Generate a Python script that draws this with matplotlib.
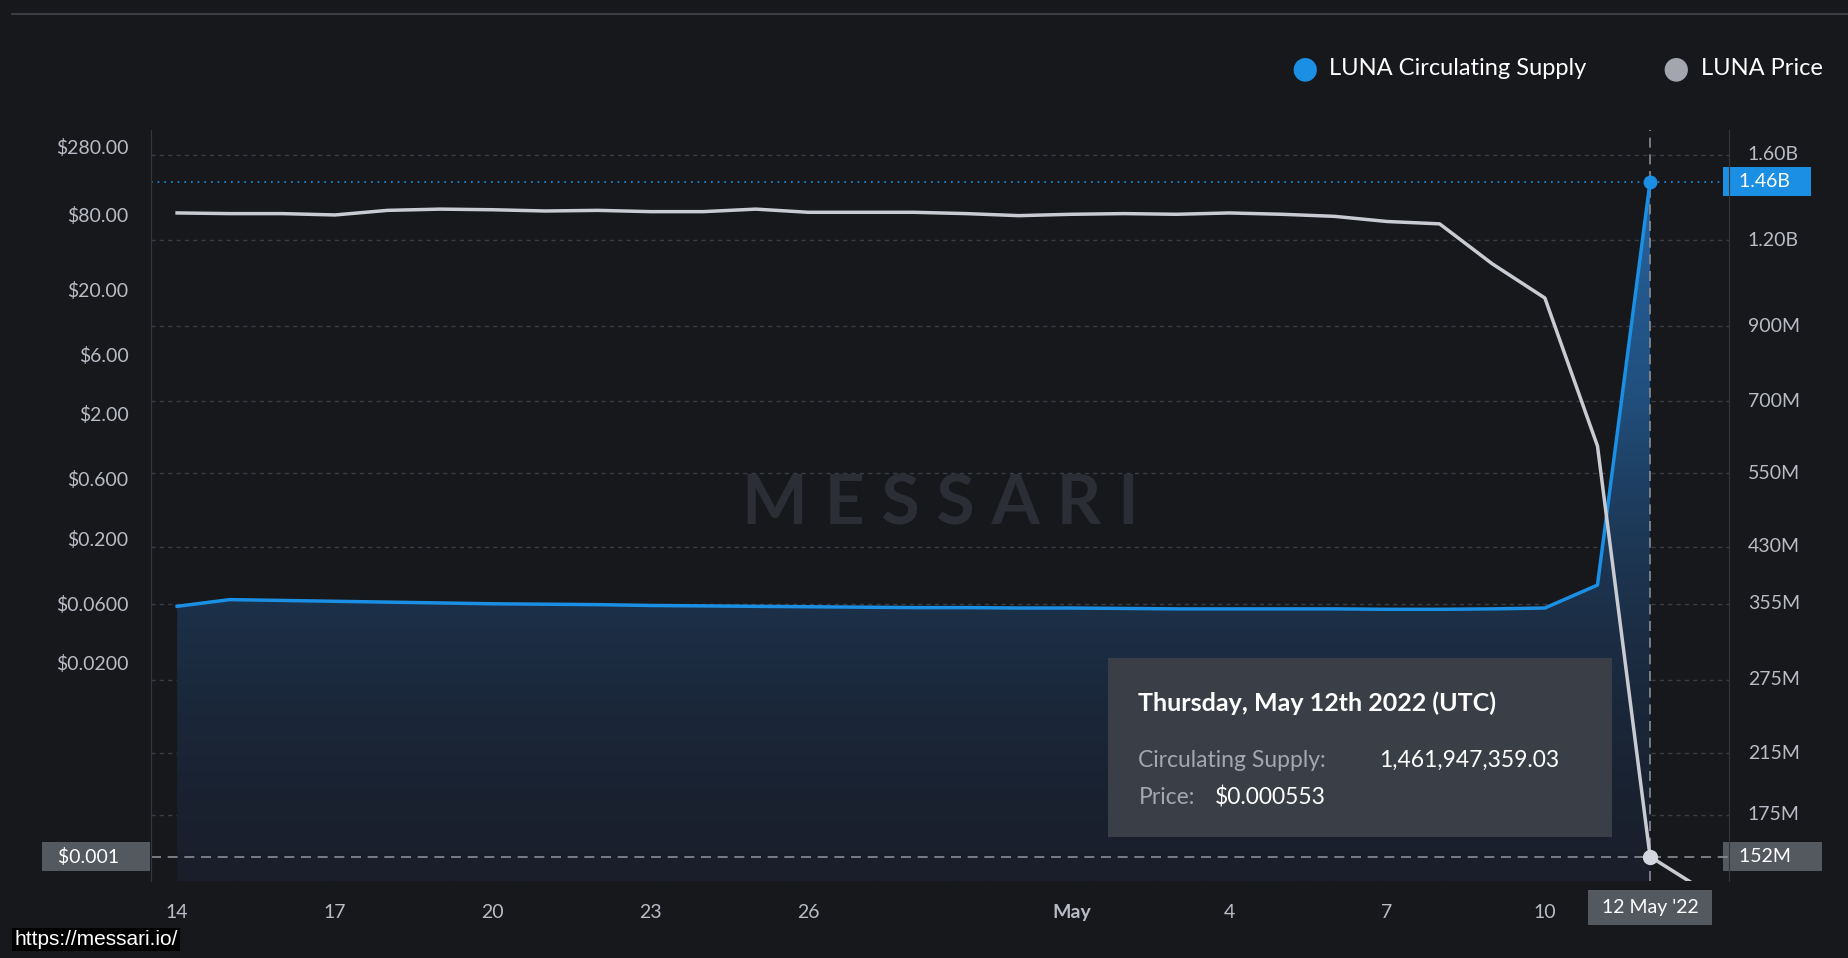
import matplotlib.pyplot as plt
import matplotlib.dates as mdates
import numpy as np
import pandas as pd
from matplotlib.patches import Polygon
from matplotlib.colors import LinearSegmentedColormap

plt.rcParams['font.family'] = ['Lato', 'DejaVu Sans']

# daily data, Apr 14 - May 12 2022
dates = pd.date_range("2022-04-14", "2022-05-12", freq="D")
supply_m = [352, 360, 359, 358, 357, 356, 355, 354.5, 354, 353, 352.5, 352, 351.5,
            351, 350.5, 350.5, 350, 350, 349.5, 349, 349, 349, 349, 348.5, 348.5,
            349, 350, 378, 1461.9]
price_dates = pd.date_range("2022-04-14", "2022-05-13", freq="D")
price = [82, 81, 81, 79, 86, 88, 87, 85, 86, 84, 84, 88, 83, 83, 83, 81, 78, 80,
         81, 80, 82, 80, 77, 70, 67, 32, 17, 1.1, 0.000553, 0.0003]

left_ticks = [280, 80, 20, 6, 2, 0.6, 0.2, 0.06, 0.02]
left_labels = ["$280.00", "$80.00", "$20.00", "$6.00", "$2.00", "$0.600", "$0.200",
               "$0.0600", "$0.0200"]
right_ticks = [1600, 1200, 900, 700, 550, 430, 355, 275, 215, 175]
right_labels = ["1.60B", "1.20B", "900M", "700M", "550M", "430M", "355M", "275M",
                "215M", "175M"]

bg = "#17181c"
grid_c = "#3a3d44"
txt_c = "#b9bcc4"
blue = "#1a8fe3"
grey_line = "#c9cbd3"

fig = plt.figure(figsize=(18.48, 9.58), dpi=100, facecolor=bg)
ax = fig.add_axes([0.0816, 0.080, 0.854, 0.7847])
ax.set_facecolor(bg)
ax2 = ax.twinx()

x0 = mdates.date2num(pd.Timestamp("2022-04-13 12:00"))
x1 = mdates.date2num(pd.Timestamp("2022-05-13 12:00"))
ax.set_xlim(x0, x1)

# supply axis (right, log)
ax.set_yscale("log")
ax.set_ylim(140, 1740)
ax.set_yticks([])
ax.minorticks_off()
for t in right_ticks:
    ax.axhline(t, color=grid_c, lw=1, ls=(0, (3, 3)), zorder=0)

xs = mdates.date2num(dates)
ys = np.array(supply_m)
# gradient fill under supply
grad = np.linspace(0, 1, 256).reshape(-1, 1)
cmap = LinearSegmentedColormap.from_list(
    "g", [(0, "#191e2a"), (0.36, "#21507f"), (1.0, "#2a6db0")])
im = ax.imshow(grad, extent=[x0, x1, 140, 1740], aspect="auto", cmap=cmap,
               origin="lower", zorder=1)
poly = Polygon(np.column_stack([np.r_[xs[0], xs, xs[-1]], np.r_[140, ys, 140]]),
               closed=True, transform=ax.transData, facecolor="none", edgecolor="none")
ax.add_patch(poly)
im.set_clip_path(poly)
ax.plot(xs, ys, color=blue, lw=2.5, zorder=3)
ax.axhline(supply_m[-1], color=blue, lw=1.2, ls=(0, (1, 3)), zorder=2)
ax.plot(xs[-1], ys[-1], "o", color=blue, ms=9, zorder=5)

# price axis (left, log)
ax2.yaxis.tick_left()
ax2.set_yscale("log")
ax2.set_ylim(0.00035, 383)
ax2.set_yticks(left_ticks)
ax2.set_yticklabels(left_labels)
ax2.minorticks_off()
ax2.tick_params(axis="y", colors=txt_c, labelsize=14, length=0, pad=16)
ax2.plot(mdates.date2num(price_dates), price, color=grey_line, lw=2.5, zorder=4)
ax2.plot(xs[-1], price[-2], "o", color="#d5d7de", ms=10, zorder=6)
ax2.axhline(price[-2], color="#8a8d94", lw=1.2, ls=(0, (6, 4)), zorder=2)

# right tick labels as text
for t, l in zip(right_ticks, right_labels):
    ax.text(1.012, t, l, transform=ax.get_yaxis_transform(), color=txt_c,
            fontsize=14, va="center", ha="left")
ax.text(1.0, supply_m[-1], "  1.46B   ", transform=ax.get_yaxis_transform(),
        color="white", fontsize=14, va="center", ha="left",
        bbox=dict(boxstyle="square,pad=0.3", fc=blue, ec="none"))
ax.text(1.0, 152, "  152M     ", transform=ax.get_yaxis_transform(),
        color="white", fontsize=14, va="center", ha="left",
        bbox=dict(boxstyle="square,pad=0.3", fc="#54585f", ec="none"))
ax2.text(-0.065, price[-2], "  $0.001     ", transform=ax2.get_yaxis_transform(),
         color="white", fontsize=14, va="center", ha="left",
         bbox=dict(boxstyle="square,pad=0.3", fc="#54585f", ec="none"))

# crosshair
ax.axvline(xs[-1], color="#8a8d94", lw=1.2, ls=(0, (6, 4)), zorder=2)

# x axis
ax.xaxis.set_major_locator(mdates.DayLocator(bymonthday=[1, 4, 7, 10, 14, 17, 20, 23, 26]))
def fmt(v, pos):
    d = mdates.num2date(v)
    return "May" if d.day == 1 else str(d.day)
ax.xaxis.set_major_formatter(plt.FuncFormatter(fmt))
ax.tick_params(axis="x", colors=txt_c, labelsize=14, length=0, pad=16)
for lab in ax.get_xticklabels():
    if lab.get_text() == "May":
        lab.set_fontweight("bold")
ax.text(xs[-1], -0.035, " 12 May '22 ", transform=ax.get_xaxis_transform(),
        color="white", fontsize=14, ha="center", va="center",
        bbox=dict(boxstyle="square,pad=0.45", fc="#54585f", ec="none"))

for s in ["top", "bottom"]:
    ax.spines[s].set_visible(False)
    ax2.spines[s].set_visible(False)
for a in (ax, ax2):
    a.spines["left"].set_color("#34363c")
    a.spines["right"].set_color("#34363c")

# watermark
ax.text(0.5, 0.5, "M E S S A R I", transform=ax.transAxes, fontsize=50, fontweight="bold",
        color="#2b2e35", ha="center", va="center", zorder=0.5)

# tooltip
fig.patches.append(plt.Rectangle((940 / 1568, 1 - 710 / 813), 428 / 1568, 152 / 813,
                                 transform=fig.transFigure, fc="#3a3e46", ec="none",
                                 zorder=10))
fig.text(966 / 1568, 1 - 597 / 813, "Thursday, May 12th 2022 (UTC)", color="white",
         fontsize=18, fontweight="bold", va="center", zorder=11)
fig.text(966 / 1568, 1 - 645 / 813, "Circulating Supply:", color="#a3a7af",
         fontsize=16.5, va="center", zorder=11)
fig.text(1170 / 1568, 1 - 645 / 813, "1,461,947,359.03", color="white",
         fontsize=16.5, va="center", zorder=11)
fig.text(966 / 1568, 1 - 677 / 813, "Price:", color="#a3a7af",
         fontsize=16.5, va="center", zorder=11)
fig.text(1031 / 1568, 1 - 677 / 813, "$0.000553", color="white",
         fontsize=16.5, va="center", zorder=11)

# legend
fig.text(1107 / 1568, 1 - 58 / 813, "\u25CF", color=blue, fontsize=22, ha="center", va="center",
         family="DejaVu Sans")
fig.text(1128 / 1568, 1 - 58 / 813, "LUNA Circulating Supply", color="white", fontsize=17, va="center")
fig.text(1422 / 1568, 1 - 58 / 813, "\u25CF", color="#a3a6ae", fontsize=22, ha="center", va="center",
         family="DejaVu Sans")
fig.text(1443 / 1568, 1 - 58 / 813, "LUNA Price", color="white", fontsize=17, va="center")

# top border line
fig.add_artist(plt.Line2D([10 / 1568, 1], [1 - 12 / 813] * 2, color="#3a3d44", lw=1.5))
fig.text(12 / 1568, 1 - 797 / 813, "https://messari.io/", color="white",
         fontsize=15, family="Liberation Sans", va="center",
         bbox=dict(boxstyle="square,pad=0.1", fc="black", ec="none"))

fig.savefig("out.png", dpi=100, facecolor=bg)
